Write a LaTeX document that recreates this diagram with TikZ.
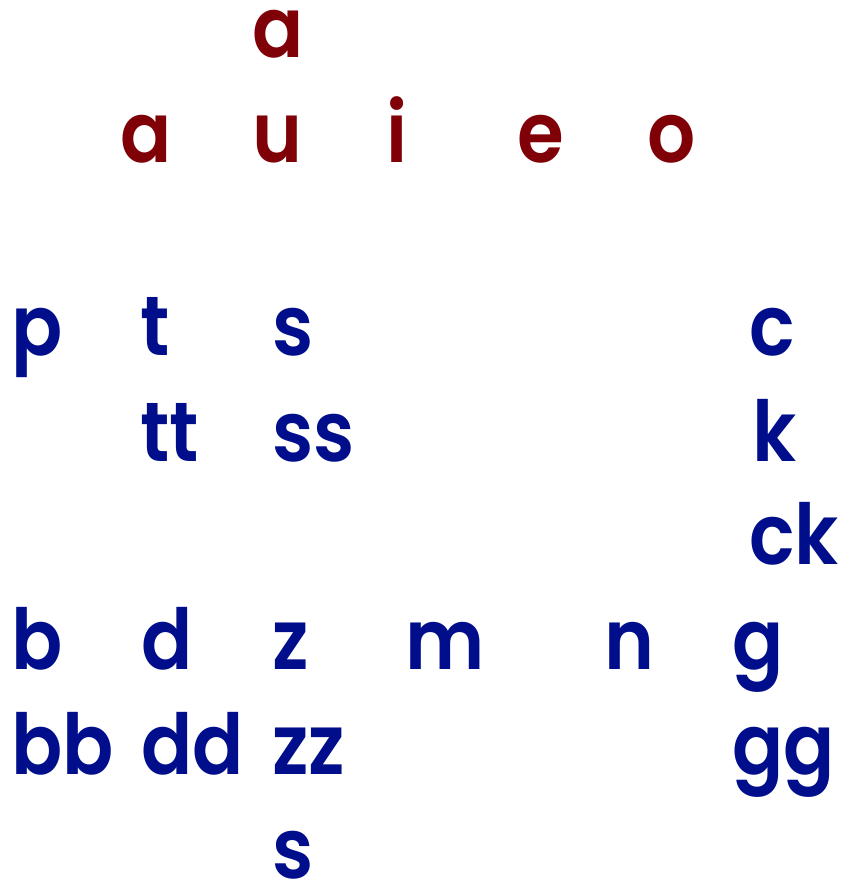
\documentclass[tikz,border=0pt]{standalone}
\usepackage{fontspec}
\newfontfamily\letterfont[FakeStretch=0.9]{Poppins SemiBold}
\usepackage{tikz}
\usetikzlibrary{positioning}
\definecolor{vowelred}{RGB}{128,0,8}
\definecolor{consblue}{RGB}{0,14,140}

\begin{document}
\begin{tikzpicture}[x=1pt, y=-1pt,
	letter/.style={anchor=base west, inner sep=0pt, font=\letterfont\fontsize{84}{90}\selectfont},
	vowel/.style={letter, text=vowelred},
	cons/.style={letter, text=consblue}]
		\useasboundingbox (0,0) rectangle (846,893);
		% vowels
		\node[vowel] (a0) at (252,58) {a};
		\foreach \lab/\x [count=\c] in {a/120, u/252, i/386, e/517, o/647} {
			\node[vowel] (v\c) at (\x,163) {\lab};
		}
		% consonants
		\foreach \lab/\x/\y [count=\c] in {p/11/355, t/140/355, s/272/355, c/749/355,
			tt/140/461, ss/272/461, k/752/461, ck/749/564,
			b/11/669, d/141/669, z/272/669, m/405/669, n/604/669, g/732/669,
			bb/11/774, dd/141/774, zz/272/774, gg/732/774, s/272/878} {
			\node[cons] (c\c) at (\x,\y) {\lab};
		}
	\end{tikzpicture}
\end{document}
